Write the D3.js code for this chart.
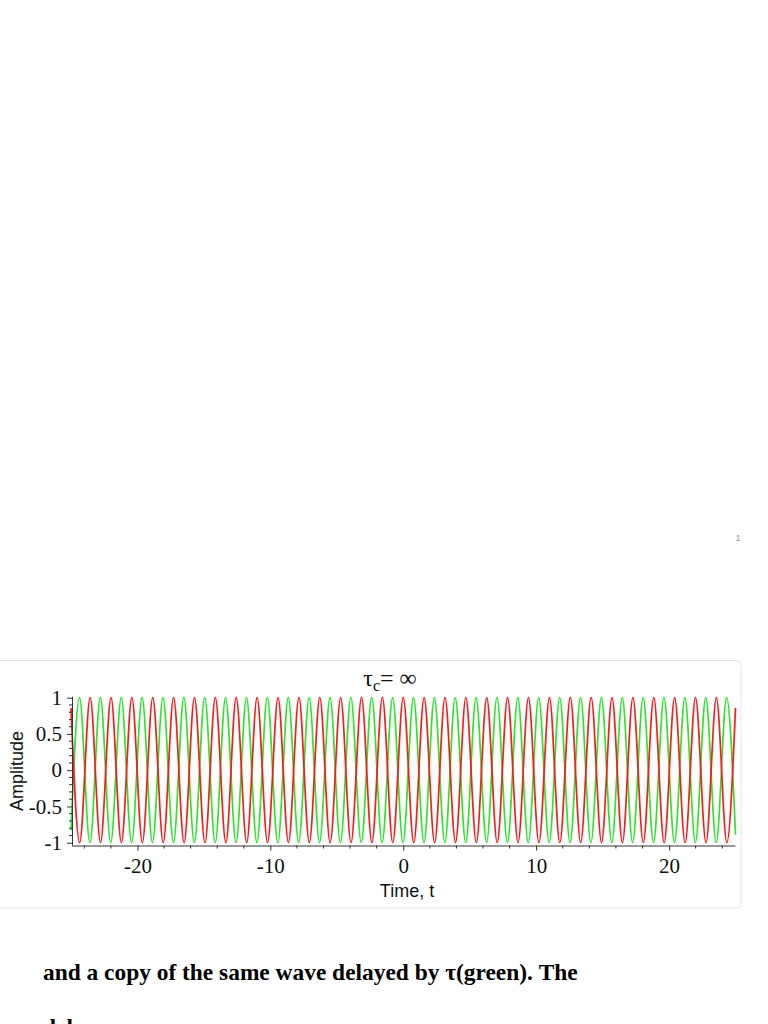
<!DOCTYPE html>
<html>
<head>
<meta charset="utf-8">
<script src="https://cdn.jsdelivr.net/npm/d3@7"></script>
<style>
  html, body { margin: 0; padding: 0; background: #ffffff; }
  svg { display: block; }
</style>
</head>
<body>
<svg id="chart" width="768" height="1024"></svg>
<script>
// ---- data ----
const xTicks = [-20, -10, 0, 10, 20];
const xMinorTicks = [-24, -22, -18, -16, -14, -12, -8, -6, -4, -2, 2, 4, 6, 8, 12, 14, 16, 18, 22, 24];
const yTicks = [1, 0.5, 0, -0.5, -1];
const yMinorTicks = [0.9, 0.8, 0.7, 0.6, 0.4, 0.3, 0.2, 0.1, -0.1, -0.2, -0.3, -0.4, -0.6, -0.7, -0.8, -0.9];

// red wave (original): times of peaks (+1), troughs (-1), and end values
const redPeaks = [-23.56, -21.99, -20.42, -18.85, -17.28, -15.71, -14.14, -12.57, -11.00, -9.42, -7.85, -6.28, -4.71, -3.14, -1.57, 0, 1.57, 3.14, 4.71, 6.28, 7.85, 9.42, 11.00, 12.57, 14.14, 15.71, 17.28, 18.85, 20.42, 21.99, 23.56];
const redTroughs = [-24.35, -22.78, -21.21, -19.63, -18.06, -16.49, -14.92, -13.35, -11.78, -10.21, -8.64, -7.07, -5.50, -3.93, -2.36, -0.79, 0.79, 2.36, 3.93, 5.50, 7.07, 8.64, 10.21, 11.78, 13.35, 14.92, 16.49, 18.06, 19.63, 21.21, 22.78, 24.35];
const redEnds = [[-25, 0.86], [25, 0.86]];

// green wave (delayed copy)
const greenPeaks = [-24.36, -22.79, -21.22, -19.65, -18.08, -16.51, -14.94, -13.37, -11.80, -10.23, -8.65, -7.08, -5.51, -3.94, -2.37, -0.80, 0.77, 2.34, 3.91, 5.48, 7.05, 8.62, 10.19, 11.77, 13.34, 14.91, 16.48, 18.05, 19.62, 21.19, 22.76, 24.33];
const greenTroughs = [-23.58, -22.01, -20.44, -18.87, -17.29, -15.72, -14.15, -12.58, -11.01, -9.44, -7.87, -6.30, -4.73, -3.16, -1.59, -0.02, 1.56, 3.13, 4.70, 6.27, 7.84, 9.41, 10.98, 12.55, 14.12, 15.69, 17.26, 18.83, 20.41, 21.98, 23.55];
const greenEnds = [[-25, -0.83], [25, -0.89]];

// ---- build series ----
function buildSeries(peaks, troughs, ends) {
  const pts = ends.map(d => ({t: d[0], v: d[1]}))
    .concat(peaks.map(t => ({t, v: 1})))
    .concat(troughs.map(t => ({t, v: -1})));
  return pts.sort((a, b) => a.t - b.t);
}
const redSeries = buildSeries(redPeaks, redTroughs, redEnds);
const greenSeries = buildSeries(greenPeaks, greenTroughs, greenEnds);

// ---- drawing ----
const svg = d3.select("#chart");

// frame box
svg.append("rect")
  .attr("x", -4).attr("y", 660.5)
  .attr("width", 745).attr("height", 247.5)
  .attr("rx", 4)
  .attr("fill", "#ffffff")
  .attr("stroke", "#e4e4e4")
  .attr("stroke-width", 1);

const x = d3.scaleLinear().domain([-25, 25]).range([71, 735.5]);
const y = d3.scaleLinear().domain([-1, 1]).range([842.7, 697.7]);

const line = d3.line()
  .x(d => x(d.t))
  .y(d => y(d.v))
  .curve(d3.curveMonotoneX);

svg.append("path")
  .datum(greenSeries)
  .attr("d", line)
  .attr("fill", "none")
  .attr("stroke", "rgb(40,232,40)")
  .attr("stroke-width", 1.7);

svg.append("path")
  .datum(redSeries)
  .attr("d", line)
  .attr("fill", "none")
  .attr("stroke", "rgb(255,25,25)")
  .attr("stroke-width", 1.7);

const axisColor = "#333333";
const serif = "'Liberation Serif', 'Times New Roman', serif";
const sans = "'Liberation Sans', Arial, sans-serif";
const hyphenFormat = d => String(d);   // plain hyphen-minus, as in the reference

// x axis
const xAxisY = 845.5;
const gx = svg.append("g").attr("transform", `translate(0,${xAxisY})`);
gx.call(d3.axisBottom(x).tickValues(xTicks).tickSize(5).tickSizeOuter(0).tickFormat(hyphenFormat));
gx.select(".domain").attr("stroke", axisColor).attr("d", `M${x(-25) + 1},0.5H${x(25)}`);
gx.selectAll(".tick line").attr("stroke", axisColor);
gx.selectAll(".tick text")
  .attr("font-family", serif).attr("font-size", 21).attr("fill", "#111")
  .attr("dy", "0.95em");
gx.selectAll(".minor").data(xMinorTicks).enter().append("line")
  .attr("class", "minor")
  .attr("x1", d => x(d)).attr("x2", d => x(d))
  .attr("y1", 0).attr("y2", 3)
  .attr("stroke", axisColor);

// y axis
const yAxisX = 72;
const gy = svg.append("g").attr("transform", `translate(${yAxisX},0)`);
gy.call(d3.axisLeft(y).tickValues(yTicks).tickSize(5).tickSizeOuter(0).tickFormat(hyphenFormat));
gy.select(".domain").attr("stroke", axisColor).attr("d", `M0.5,${y(1) - 1}V${xAxisY}`);
gy.selectAll(".tick line").attr("stroke", axisColor);
gy.selectAll(".tick text")
  .attr("font-family", serif).attr("font-size", 21).attr("fill", "#111")
  .attr("x", -10);
gy.selectAll(".minor").data(yMinorTicks).enter().append("line")
  .attr("class", "minor")
  .attr("x1", -3).attr("x2", 0)
  .attr("y1", d => y(d)).attr("y2", d => y(d))
  .attr("stroke", axisColor);

// axis titles
svg.append("text")
  .attr("x", 407).attr("y", 897)
  .attr("text-anchor", "middle")
  .attr("font-family", sans).attr("font-size", 18).attr("fill", "#111")
  .text("Time, t");

svg.append("text")
  .attr("transform", "translate(23,771) rotate(-90)")
  .attr("text-anchor", "middle")
  .attr("font-family", sans).attr("font-size", 18).attr("fill", "#111")
  .text("Amplitude");

// title
const title = svg.append("text")
  .attr("x", 390).attr("y", 686)
  .attr("text-anchor", "middle")
  .attr("font-family", serif).attr("font-size", 24).attr("fill", "#111");
title.append("tspan").text("τ");
title.append("tspan").attr("dy", 5).attr("font-size", 16).text("c");
title.append("tspan").attr("dy", -5).text("= ∞");

// page number
svg.append("text")
  .attr("x", 738).attr("y", 541)
  .attr("text-anchor", "middle")
  .attr("font-family", sans).attr("font-size", 9).attr("fill", "#999")
  .text("1");

// body text
svg.append("text")
  .attr("x", 43).attr("y", 980)
  .attr("font-family", serif).attr("font-size", 23.4).attr("font-weight", "bold").attr("fill", "#000")
  .text("and a copy of the same wave delayed by τ(green). The");
svg.append("text")
  .attr("x", 43).attr("y", 1035)
  .attr("font-family", serif).attr("font-size", 23.4).attr("font-weight", "bold").attr("fill", "#000")
  .text("delay");
</script>
</body>
</html>
